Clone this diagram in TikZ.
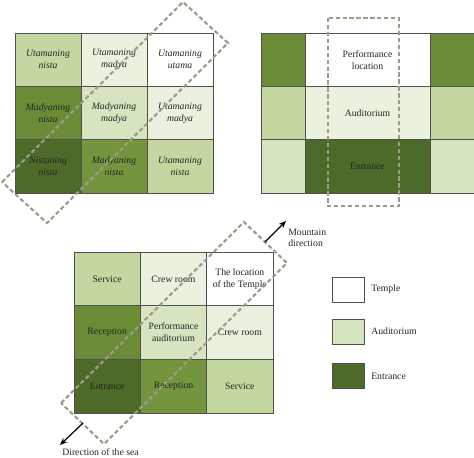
\documentclass[tikz,border=0pt]{standalone}
\usepackage{fontspec}
\setmainfont{Liberation Serif}
\usetikzlibrary{arrows.meta}
\definecolor{cW}{HTML}{FFFFFF}
\definecolor{cVL}{HTML}{EAF1DF}
\definecolor{cL}{HTML}{D6E4BF}
\definecolor{cLM}{HTML}{C4D7A0}
\definecolor{cM}{HTML}{74943D}
\definecolor{cMD}{HTML}{6B8B37}
\definecolor{cD}{HTML}{4E6A28}
\definecolor{cellline}{HTML}{505050}
\definecolor{dashc}{HTML}{9E9C86}
\definecolor{txt}{HTML}{262626}
\begin{document}
\begin{tikzpicture}[x=0.75pt,y=-0.75pt,
  base/.style={draw=cellline, line width=0.5pt, inner sep=1pt, outer sep=0pt,
    align=center, anchor=north west, text=txt,
    font=\fontsize{7.3}{9}\selectfont},
  cellA/.style={base, minimum width=49.5pt, minimum height=40pt,
    font=\fontsize{7.3}{9}\selectfont\itshape},
  cellN/.style={base, minimum width=93.75pt, minimum height=40pt},
  cellS/.style={base, minimum width=33pt, minimum height=40pt},
  cellC/.style={base, minimum width=49.75pt, minimum height=40.25pt},
  legbox/.style={draw=cellline, line width=0.5pt, minimum width=24pt, minimum height=19pt, inner sep=0pt, anchor=north west},
  leglab/.style={anchor=west, text=txt, font=\fontsize{7.3}{9}\selectfont, inner sep=0pt},
  dashbox/.style={draw=dashc, line width=1.6pt, dash pattern=on 3.2pt off 2pt},
  dirarrow/.style={-{Stealth[length=5.5pt,width=4.5pt]}, line width=0.9pt, black},
  dirlab/.style={text=txt, font=\fontsize{7.3}{8}\selectfont, inner sep=0pt}
]
\useasboundingbox (0,0) rectangle (474,457);
\fill[white] (0,0) rectangle (474,457);

% ---- top-left grid ----
\node[cellA, fill=cLM] (a11) at (15,33) {Utamaning\\nista};
\node[cellA, fill=cVL] (a12) at (81,33) {Utamaning\\madya};
\node[cellA, fill=cW]  (a13) at (147,33) {Utamaning\\utama};
\node[cellA, fill=cMD] (a21) at (15,86.33) {Madyaning\\nista};
\node[cellA, fill=cL]  (a22) at (81,86.33) {Madyaning\\madya};
\node[cellA, fill=cVL] (a23) at (147,86.33) {Utamaning\\madya};
\node[cellA, fill=cD]  (a31) at (15,139.67) {Nistaning\\nista};
\node[cellA, fill=cM]  (a32) at (81,139.67) {Madyaning\\nista};
\node[cellA, fill=cLM] (a33) at (147,139.67) {Utamaning\\nista};
\draw[dashbox] (2,182) -- (183,2) -- (228,43) -- (47,223) -- cycle;

% ---- top-right grid ----
\node[cellS, fill=cMD] (b11) at (261,33) {};
\node[cellN, fill=cW]  (b12) at (305,33) {Performance\\location};
\node[cellS, fill=cMD] (b13) at (430,33) {};
\node[cellS, fill=cLM] (b21) at (261,86.33) {};
\node[cellN, fill=cVL] (b22) at (305,86.33) {Auditorium};
\node[cellS, fill=cLM] (b23) at (430,86.33) {};
\node[cellS, fill=cL]  (b31) at (261,139.67) {};
\node[cellN, fill=cD]  (b32) at (305,139.67) {Entrance};
\node[cellS, fill=cL]  (b33) at (430,139.67) {};
\draw[dashbox] (328,18) rectangle (399,206);

% ---- bottom grid ----
\node[cellC, fill=cLM] (c11) at (74,252) {Service};
\node[cellC, fill=cVL] (c12) at (140.33,252) {Crew room};
\node[cellC, fill=cW]  (c13) at (206.67,252) {The location\\of the Temple};
\node[cellC, fill=cMD] (c21) at (74,305.67) {Reception};
\node[cellC, fill=cL]  (c22) at (140.33,305.67) {Performance\\auditorium};
\node[cellC, fill=cVL] (c23) at (206.67,305.67) {Crew room};
\node[cellC, fill=cD]  (c31) at (74,359.33) {Entrance};
\node[cellC, fill=cM]  (c32) at (140.33,359.33) {Reception};
\node[cellC, fill=cLM] (c33) at (206.67,359.33) {Service};
\draw[dashbox] (61,403) -- (244,222) -- (287,263) -- (104,444) -- cycle;

% ---- direction arrows ----
\coordinate (m0) at (265,242);
\coordinate (m1) at (286,221);
\draw[dirarrow] (m0) -- (m1);
\node[dirlab, anchor=west, align=left] (mlab) at (288,238) {Mountain\\direction};
\coordinate (s0) at (83,423);
\coordinate (s1) at (60,445);
\draw[dirarrow] (s0) -- (s1);
\node[dirlab, anchor=west] (slab) at (62,452) {Direction of the sea};

% ---- legend ----
\node[legbox, fill=cW] (l1) at (332,277) {};
\node[leglab] (t1) at (371,289.5) {Temple};
\node[legbox, fill=cL] (l2) at (332,319) {};
\node[leglab] (t2) at (371,331.5) {Auditorium};
\node[legbox, fill=cD] (l3) at (332,363) {};
\node[leglab] (t3) at (371,376) {Entrance};
\end{tikzpicture}
\end{document}
